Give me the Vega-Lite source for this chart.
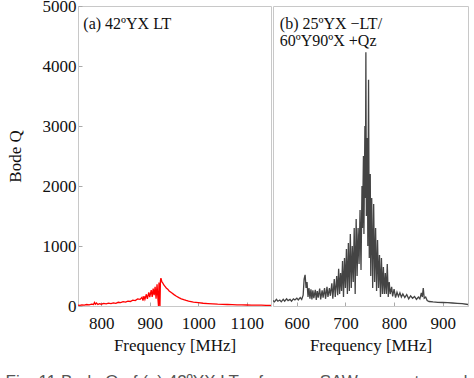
{
  "$schema": "https://vega.github.io/schema/vega-lite/v6.json",
  "padding": {"left": 5, "top": -4, "right": 0, "bottom": 0},
  "spacing": 0,
  "config": {
    "font": "Liberation Serif",
    "view": {"stroke": "#c8c8c8", "strokeWidth": 1},
    "axis": {"domainColor": "#c8c8c8", "tickColor": "#aaaaaa", "labelFont": "Liberation Serif", "titleFont": "Liberation Serif", "labelFontSize": 17, "titleFontSize": 17, "titleFontWeight": "normal", "labelColor": "#111111", "titleColor": "#111111", "grid": false},
    "title": {"font": "Liberation Sans", "fontSize": 17, "fontWeight": "normal", "color": "#555555"}
  },
  "title": {"text": "Fig. 11     Bode Q of (a) 42ºYX LT reference SAW resonator and", "orient": "bottom", "anchor": "start", "offset": 20},
  "datasets": {
    "a": [
      {"freq": 752, "Q": 15}, {"freq": 756, "Q": 12}, {"freq": 760, "Q": 20}, {"freq": 765, "Q": 15}, {"freq": 770, "Q": 25}, {"freq": 775, "Q": 20}, {"freq": 780, "Q": 30}, {"freq": 784, "Q": 25}, {"freq": 786, "Q": 60}, {"freq": 788, "Q": 30}, {"freq": 790, "Q": 50}, {"freq": 793, "Q": 25}, {"freq": 796, "Q": 40}, {"freq": 800, "Q": 30}, {"freq": 805, "Q": 42}, {"freq": 810, "Q": 35}, {"freq": 815, "Q": 47}, {"freq": 820, "Q": 40}, {"freq": 825, "Q": 52}, {"freq": 830, "Q": 45}, {"freq": 835, "Q": 62}, {"freq": 840, "Q": 55}, {"freq": 845, "Q": 72}, {"freq": 850, "Q": 65}, {"freq": 855, "Q": 82}, {"freq": 860, "Q": 75}, {"freq": 865, "Q": 98}, {"freq": 870, "Q": 90}, {"freq": 875, "Q": 118}, {"freq": 880, "Q": 110}, {"freq": 884, "Q": 145}, {"freq": 886, "Q": 90}, {"freq": 888, "Q": 165}, {"freq": 890, "Q": 110}, {"freq": 893, "Q": 195}, {"freq": 895, "Q": 120}, {"freq": 898, "Q": 225}, {"freq": 900, "Q": 150}, {"freq": 903, "Q": 265}, {"freq": 905, "Q": 150}, {"freq": 907, "Q": 290}, {"freq": 909, "Q": 180}, {"freq": 911, "Q": 320}, {"freq": 913, "Q": 120}, {"freq": 915, "Q": 360}, {"freq": 917, "Q": 100}, {"freq": 918, "Q": 0}, {"freq": 919, "Q": 390}, {"freq": 920, "Q": 200}, {"freq": 921, "Q": 0}, {"freq": 922, "Q": 420}, {"freq": 923, "Q": 465}, {"freq": 925, "Q": 400}, {"freq": 927, "Q": 380}, {"freq": 929, "Q": 350}, {"freq": 931, "Q": 330}, {"freq": 934, "Q": 300}, {"freq": 937, "Q": 280}, {"freq": 940, "Q": 250}, {"freq": 945, "Q": 220}, {"freq": 950, "Q": 190}, {"freq": 955, "Q": 162}, {"freq": 960, "Q": 140}, {"freq": 965, "Q": 120}, {"freq": 970, "Q": 105}, {"freq": 975, "Q": 92}, {"freq": 980, "Q": 80}, {"freq": 990, "Q": 65}, {"freq": 1000, "Q": 55}, {"freq": 1010, "Q": 46}, {"freq": 1020, "Q": 40}, {"freq": 1030, "Q": 35}, {"freq": 1040, "Q": 30}, {"freq": 1050, "Q": 28}, {"freq": 1060, "Q": 25}, {"freq": 1070, "Q": 22}, {"freq": 1080, "Q": 20}, {"freq": 1090, "Q": 18}, {"freq": 1100, "Q": 17}, {"freq": 1110, "Q": 15}, {"freq": 1120, "Q": 14}, {"freq": 1130, "Q": 13}, {"freq": 1140, "Q": 12}, {"freq": 1150, "Q": 12}
    ],
    "b": [
      {"freq": 551, "Q": 90}, {"freq": 554, "Q": 70}, {"freq": 558, "Q": 110}, {"freq": 561, "Q": 80}, {"freq": 565, "Q": 100}, {"freq": 568, "Q": 70}, {"freq": 572, "Q": 110}, {"freq": 575, "Q": 80}, {"freq": 579, "Q": 120}, {"freq": 582, "Q": 90}, {"freq": 586, "Q": 110}, {"freq": 589, "Q": 80}, {"freq": 593, "Q": 120}, {"freq": 596, "Q": 100}, {"freq": 600, "Q": 130}, {"freq": 603, "Q": 100}, {"freq": 607, "Q": 140}, {"freq": 610, "Q": 110}, {"freq": 613, "Q": 180}, {"freq": 615, "Q": 450}, {"freq": 617, "Q": 520}, {"freq": 619, "Q": 300}, {"freq": 621, "Q": 400}, {"freq": 623, "Q": 150}, {"freq": 625, "Q": 300}, {"freq": 627, "Q": 120}, {"freq": 629, "Q": 280}, {"freq": 631, "Q": 110}, {"freq": 633, "Q": 260}, {"freq": 635, "Q": 130}, {"freq": 638, "Q": 270}, {"freq": 640, "Q": 100}, {"freq": 642, "Q": 250}, {"freq": 644, "Q": 140}, {"freq": 647, "Q": 290}, {"freq": 649, "Q": 110}, {"freq": 652, "Q": 260}, {"freq": 654, "Q": 140}, {"freq": 657, "Q": 300}, {"freq": 659, "Q": 120}, {"freq": 662, "Q": 320}, {"freq": 664, "Q": 150}, {"freq": 667, "Q": 300}, {"freq": 669, "Q": 170}, {"freq": 672, "Q": 380}, {"freq": 674, "Q": 120}, {"freq": 677, "Q": 450}, {"freq": 679, "Q": 150}, {"freq": 682, "Q": 500}, {"freq": 684, "Q": 180}, {"freq": 686, "Q": 620}, {"freq": 688, "Q": 200}, {"freq": 690, "Q": 550}, {"freq": 692, "Q": 250}, {"freq": 694, "Q": 750}, {"freq": 696, "Q": 150}, {"freq": 698, "Q": 800}, {"freq": 700, "Q": 300}, {"freq": 702, "Q": 950}, {"freq": 704, "Q": 200}, {"freq": 706, "Q": 1050}, {"freq": 708, "Q": 250}, {"freq": 710, "Q": 1200}, {"freq": 712, "Q": 300}, {"freq": 714, "Q": 1000}, {"freq": 716, "Q": 400}, {"freq": 718, "Q": 1300}, {"freq": 720, "Q": 200}, {"freq": 722, "Q": 1450}, {"freq": 724, "Q": 500}, {"freq": 726, "Q": 1300}, {"freq": 728, "Q": 700}, {"freq": 730, "Q": 1600}, {"freq": 732, "Q": 600}, {"freq": 734, "Q": 2000}, {"freq": 735, "Q": 1300}, {"freq": 737, "Q": 2500}, {"freq": 738, "Q": 1200}, {"freq": 740, "Q": 3000}, {"freq": 741, "Q": 1800}, {"freq": 742, "Q": 4230}, {"freq": 743, "Q": 1500}, {"freq": 745, "Q": 2800}, {"freq": 746, "Q": 1000}, {"freq": 747.5, "Q": 3770}, {"freq": 749, "Q": 800}, {"freq": 751, "Q": 2200}, {"freq": 752, "Q": 500}, {"freq": 754, "Q": 1800}, {"freq": 756, "Q": 300}, {"freq": 758, "Q": 1700}, {"freq": 760, "Q": 400}, {"freq": 762, "Q": 1300}, {"freq": 764, "Q": 250}, {"freq": 766, "Q": 1100}, {"freq": 768, "Q": 300}, {"freq": 770, "Q": 850}, {"freq": 772, "Q": 150}, {"freq": 774, "Q": 800}, {"freq": 776, "Q": 200}, {"freq": 778, "Q": 650}, {"freq": 780, "Q": 200}, {"freq": 782, "Q": 550}, {"freq": 784, "Q": 200}, {"freq": 786, "Q": 700}, {"freq": 788, "Q": 150}, {"freq": 790, "Q": 400}, {"freq": 792, "Q": 200}, {"freq": 795, "Q": 320}, {"freq": 797, "Q": 160}, {"freq": 800, "Q": 280}, {"freq": 803, "Q": 140}, {"freq": 806, "Q": 230}, {"freq": 809, "Q": 160}, {"freq": 812, "Q": 220}, {"freq": 815, "Q": 150}, {"freq": 818, "Q": 200}, {"freq": 822, "Q": 140}, {"freq": 826, "Q": 190}, {"freq": 830, "Q": 120}, {"freq": 834, "Q": 170}, {"freq": 838, "Q": 130}, {"freq": 842, "Q": 160}, {"freq": 846, "Q": 110}, {"freq": 850, "Q": 150}, {"freq": 853, "Q": 120}, {"freq": 856, "Q": 220}, {"freq": 858, "Q": 150}, {"freq": 860, "Q": 300}, {"freq": 862, "Q": 130}, {"freq": 865, "Q": 150}, {"freq": 868, "Q": 90}, {"freq": 872, "Q": 75}, {"freq": 880, "Q": 68}, {"freq": 890, "Q": 62}, {"freq": 900, "Q": 58}, {"freq": 910, "Q": 55}, {"freq": 920, "Q": 50}, {"freq": 930, "Q": 45}, {"freq": 940, "Q": 40}, {"freq": 952, "Q": 25}
    ]
  },
  "hconcat": [
    {
      "width": 193,
      "height": 300,
      "layer": [
        {
          "data": {"name": "a"},
          "mark": {"type": "line", "color": "#ff0000", "strokeWidth": 1.3, "clip": true},
          "encoding": {
            "x": {"field": "freq", "type": "quantitative", "scale": {"domain": [752, 1150], "nice": false, "zero": false}, "axis": {"values": [800, 900, 1000, 1100], "format": "d", "title": "Frequency [MHz]", "tickSize": -4, "labelPadding": 13, "titlePadding": 6}},
            "y": {"field": "Q", "type": "quantitative", "scale": {"domain": [0, 5000], "nice": false}, "axis": {"values": [0, 500, 1000, 1500, 2000, 2500, 3000, 3500, 4000, 4500, 5000], "format": "d", "labelExpr": "datum.value % 1000 === 0 ? datum.label : ''", "title": "Bode Q", "tickSize": -4, "labelPadding": 6, "titlePadding": 18}}
          }
        },
        {
          "data": {"values": [{"freq": 763, "Q": 4700, "label": "(a) 42ºYX LT"}]},
          "mark": {"type": "text", "align": "left", "baseline": "middle", "fontSize": 16, "font": "Liberation Serif", "color": "#111111"},
          "encoding": {
            "x": {"field": "freq", "type": "quantitative"},
            "y": {"field": "Q", "type": "quantitative"},
            "text": {"field": "label"}
          }
        }
      ]
    },
    {
      "width": 195,
      "height": 300,
      "layer": [
        {
          "data": {"name": "b"},
          "mark": {"type": "line", "color": "#444444", "strokeWidth": 1.3, "clip": true},
          "encoding": {
            "x": {"field": "freq", "type": "quantitative", "scale": {"domain": [551, 952], "nice": false, "zero": false}, "axis": {"values": [600, 700, 800, 900], "format": "d", "title": "Frequency [MHz]", "tickSize": -4, "labelPadding": 13, "titlePadding": 6}},
            "y": {"field": "Q", "type": "quantitative", "scale": {"domain": [0, 5000], "nice": false}, "axis": null}
          }
        },
        {
          "data": {"values": [{"freq": 565, "Q": 4700, "label": "(b) 25ºYX −LT/\n60ºY90ºX +Qz"}]},
          "mark": {"type": "text", "align": "left", "baseline": "middle", "fontSize": 16, "font": "Liberation Serif", "color": "#111111", "lineBreak": "\n", "lineHeight": 17},
          "encoding": {
            "x": {"field": "freq", "type": "quantitative"},
            "y": {"field": "Q", "type": "quantitative"},
            "text": {"field": "label"}
          }
        }
      ]
    }
  ]
}
